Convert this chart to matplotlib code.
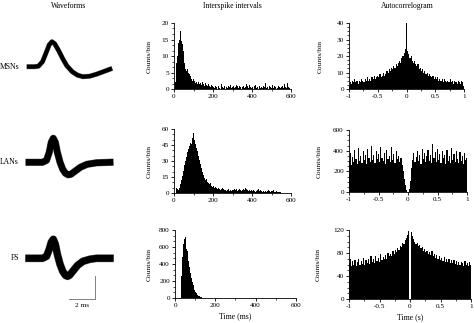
import numpy as np
import matplotlib
matplotlib.use('Agg')
import matplotlib.pyplot as plt
from matplotlib.ticker import MultipleLocator, AutoMinorLocator

plt.rcParams['font.family'] = ['Liberation Serif', 'DejaVu Serif']

W, H = 474, 323

# ---- data ----
row_names = ['MSNs', 'LANs', 'FS']

# waveforms: time (ms) / amplitude (arbitrary units)
msn_t = [0, 0.4, 0.7, 1.0, 1.3, 1.5, 1.7, 1.9, 2.2, 2.5, 2.8, 3.2, 3.6, 4.0, 4.5, 5.0, 5.5, 6.0]
msn_v = [0, 0, 0.5, 5, 15, 22, 25, 23, 16, 8, 1, -5, -8.5, -10, -9.5, -7.5, -5, -2.5]
lan_t = [0, 1.0, 1.3, 1.5, 1.65, 1.8, 1.95, 2.1, 2.3, 2.5, 2.7, 2.9, 3.1, 3.4, 3.8, 4.3, 5.0, 6.0]
lan_v = [0, 0, 2, 10, 20, 24, 20, 10, 0, -7, -11, -12.5, -12, -9, -5, -2, -0.5, 0]
fs_t = [0, 1.0, 1.3, 1.5, 1.65, 1.8, 1.95, 2.1, 2.3, 2.5, 2.7, 2.85, 3.0, 3.3, 3.6, 4.0, 4.5, 5.0, 6.0]
fs_v = [0, 0, 2, 9, 16, 19, 14, 4, -6, -13, -17, -18, -17, -12, -7, -3, -1, 0, 0]

# interspike interval histograms, 5 ms bins starting at 0
isi_bin = 5
msn_isi = [0, 2.2, 7.8, 10, 14, 15, 17.5, 14.5, 13.5, 11.5,
           8, 6, 5.5, 6, 5, 4.5, 4, 3, 2.5, 3,
           2, 2.5, 1.8, 2, 1.5, 2.2, 1.5, 1.8, 1.2, 2,
           1.5, 1, 1.8, 1.2, 0.8, 1.5, 1, 0.5, 1.2, 0.8,
           0.5, 0.3, 1, 0.5, 0, 0.8, 0.3, 0, 1.5, 0.5,
           0.3, 0.8, 0, 0.5, 0.3, 0.8, 0.5, 1.2, 0.3, 0.5,
           0, 0.8, 0.3, 0.5, 1.3, 0.8, 0.3, 1, 0.5, 0,
           0.5, 0.8, 0.3, 0.5, 1.5, 1, 0.3, 1.2, 0.5, 0.3,
           0.5, 0, 0.8, 1.3, 0.3, 0.5, 0, 0.8, 0.3, 0.5,
           0.3, 0.8, 0.5, 1.8, 0.3, 0.5, 0, 0.8, 0.5, 0.3,
           0.5, 1.3, 0.3, 0.8, 0.5, 0, 0.3, 1, 0.5, 0.3,
           0.5, 0.8, 0.3, 1.5, 0.5, 0.3, 1.8, 0.5, 0.3, 0]
lan_isi = [0, 0, 5, 4, 3, 5, 8, 12, 16, 21,
           26, 30, 34, 38, 41, 44, 47, 46, 52, 56,
           58, 50, 46, 42, 39, 35, 31, 27, 23, 20,
           17, 14, 12, 13, 10, 9, 8, 9, 7, 6,
           7, 5, 6, 5, 4, 5, 4, 3, 4, 5,
           4, 3, 3, 2, 3, 4, 2, 3, 2, 3,
           2, 3, 4, 3, 4, 2, 3, 4, 3, 2,
           3, 4, 3, 5, 4, 3, 2, 3, 2, 3,
           2, 3, 2, 1, 2, 3, 4, 2, 3, 2,
           1, 2, 1, 2, 1, 2, 3, 2, 1, 2,
           1, 2, 3, 1, 1, 2, 1, 1, 0.5, 1,
           0, 0, 0, 0, 0, 0, 0, 0, 0, 0]
fs_isi = [0, 0, 0, 0, 0, 0, 260, 480, 640, 700,
          720, 580, 550, 440, 360, 300, 240, 190, 150, 100,
          75, 55, 40, 28, 18, 12, 8, 5, 3, 1]

# autocorrelograms, 101 bins centred from -1 s to 1 s
acg_bin = 0.02
msn_acg = [2, 4, 3, 5, 4, 6, 4, 5, 3, 5,
           4, 6, 5, 4, 6, 5, 7, 5, 6, 5,
           7, 6, 8, 6, 7, 8, 7, 9, 7, 8,
           10, 8, 9, 11, 10, 12, 11, 13, 12, 14,
           13, 15, 14, 16, 17, 16, 19, 20, 22, 24,
           40,
           23, 21, 19, 20, 17, 16, 17, 15, 14, 15,
           12, 13, 11, 12, 10, 11, 9, 10, 8, 9,
           8, 7, 8, 6, 7, 6, 7, 5, 6, 5,
           6, 4, 6, 5, 4, 5, 4, 6, 4, 5,
           3, 5, 4, 3, 5, 4, 3, 5, 4, 2]
lan_acg = [300, 380, 260, 340, 290, 410, 320, 270, 430, 300,
           350, 280, 400, 310, 360, 270, 420, 330, 290, 450,
           310, 360, 280, 400, 320, 370, 290, 440, 330, 300,
           380, 270, 410, 320, 350, 290, 440, 310, 370, 280,
           400, 320, 350, 290, 330, 260, 200, 130, 70, 20,
           0,
           25, 110, 230, 310, 380, 290, 340, 400, 300, 360,
           270, 420, 320, 380, 290, 350, 410, 300, 360, 280,
           460, 330, 390, 290, 420, 310, 370, 280, 400, 330,
           360, 270, 410, 300, 350, 280, 430, 310, 370, 290,
           400, 320, 280, 390, 300, 350, 270, 380, 310, 330]
fs_acg = [62, 70, 58, 66, 60, 68, 57, 64, 70, 59,
          66, 61, 72, 60, 67, 63, 70, 61, 74, 64,
          69, 62, 75, 66, 71, 64, 78, 68, 73, 70,
          76, 69, 80, 74, 78, 75, 84, 79, 86, 82,
          88, 85, 93, 90, 97, 95, 103, 106, 112, 118,
          0,
          117, 110, 104, 100, 96, 98, 92, 94, 88, 90,
          84, 87, 81, 84, 78, 82, 76, 84, 74, 78,
          72, 76, 70, 74, 68, 72, 66, 73, 65, 70,
          64, 69, 62, 67, 63, 68, 61, 66, 60, 65,
          59, 64, 62, 58, 66, 60, 63, 58, 64, 60]

isi_xticks = [0, 200, 400, 600]
isi_yticks = [[0, 5, 10, 15, 20], [0, 15, 30, 45, 60], [0, 200, 400, 600, 800]]
acg_xticks = [-1, -0.5, 0, 0.5, 1]
acg_xticklabels = ['-1', '-0.5', '0', '0.5', '1']
acg_yticks = [[0, 10, 20, 30, 40], [0, 200, 400, 600], [0, 40, 80, 120]]

waves = [(msn_t, msn_v, 3.0), (lan_t, lan_v, 4.6), (fs_t, fs_v, 5.0)]
isis = [msn_isi, lan_isi, fs_isi]
acgs = [msn_acg, lan_acg, fs_acg]

# ---- layout (pixel boxes: left, top, right, bottom) ----
wave_base = [66.7, 162.3, 258.3]
isi_boxes = [(174, 23, 291, 89), (174, 129, 291, 193), (175, 230, 296, 298)]
acg_boxes = [(349, 23, 464, 89), (349, 130, 467, 192), (349, 230, 471, 299)]

fig = plt.figure(figsize=(W / 100, H / 100), dpi=100)


def px_axes(l, t, r, b):
    return fig.add_axes([l / W, 1 - b / H, (r - l) / W, (b - t) / H])


def style(ax):
    for s in ['top', 'right']:
        ax.spines[s].set_visible(False)
    for s in ['left', 'bottom']:
        ax.spines[s].set_linewidth(0.6)
    ax.tick_params(which='major', length=2.2, width=0.6, labelsize=5.2, pad=1.5)
    ax.tick_params(which='minor', length=1.2, width=0.5)


tfont = 5.5
fig.text(69 / W, 1 - 6 / H, 'Waveforms', ha='center', va='center', fontsize=tfont)
fig.text(232 / W, 1 - 6 / H, 'Interspike intervals', ha='center', va='center', fontsize=tfont)
fig.text(407 / W, 1 - 6 / H, 'Autocorrelogram', ha='center', va='center', fontsize=tfont)

for i in range(3):
    # waveform
    t, v, lw = waves[i]
    b = wave_base[i]
    ax = px_axes(29, b - 45, 110, b + 45)
    ax.set_xlim(0, 6)
    ax.set_ylim(-45, 45)
    ax.axis('off')
    ax.plot(t, v, color='0.45', lw=lw + 0.6, solid_joinstyle='round', clip_on=False)
    ax.plot(t, v, color='black', lw=lw, solid_joinstyle='round', clip_on=False)
    fig.text(19 / W, 1 - b / H, row_names[i], ha='right', va='center', fontsize=5.5)
    if i == 2:
        ax.plot([2.95, 4.92, 4.92], [-40.7, -40.7, -17.7], color='0.5', lw=0.7, clip_on=False)
        ax.text(3.93, -47.5, '2 ms', ha='center', va='center', fontsize=5.2, clip_on=False)

    # ISI histogram
    ax = px_axes(*isi_boxes[i])
    vals = isis[i]
    edges = np.arange(len(vals)) * isi_bin
    ax.bar(edges, vals, width=isi_bin, align='edge', color='black', linewidth=0)
    ax.set_xlim(0, 600)
    ax.set_ylim(0, isi_yticks[i][-1])
    ax.set_xticks(isi_xticks)
    ax.set_yticks(isi_yticks[i])
    ax.xaxis.set_minor_locator(MultipleLocator(100))
    ax.yaxis.set_minor_locator(AutoMinorLocator(3))
    style(ax)
    ax.set_ylabel('Counts/bin', fontsize=5.4)
    ax.yaxis.set_label_coords(-0.19, 0.5)
    if i == 2:
        ax.set_xlabel('Time (ms)', fontsize=5.6, labelpad=3)

    # autocorrelogram
    ax = px_axes(*acg_boxes[i])
    vals = acgs[i]
    lags = np.linspace(-1, 1, len(vals))
    ax.bar(lags, vals, width=acg_bin, color='black', linewidth=0)
    ax.set_xlim(-1, 1)
    ax.set_ylim(0, acg_yticks[i][-1])
    ax.set_xticks(acg_xticks)
    ax.set_xticklabels(acg_xticklabels)
    ax.set_yticks(acg_yticks[i])
    ax.xaxis.set_minor_locator(MultipleLocator(0.25))
    ax.yaxis.set_minor_locator(AutoMinorLocator(4))
    style(ax)
    ax.set_ylabel('Counts/bin', fontsize=5.4)
    ax.yaxis.set_label_coords(-0.23, 0.5)
    if i == 2:
        ax.set_xlabel('Time (s)', fontsize=5.6, labelpad=3)

fig.savefig('out.png', dpi=100)
